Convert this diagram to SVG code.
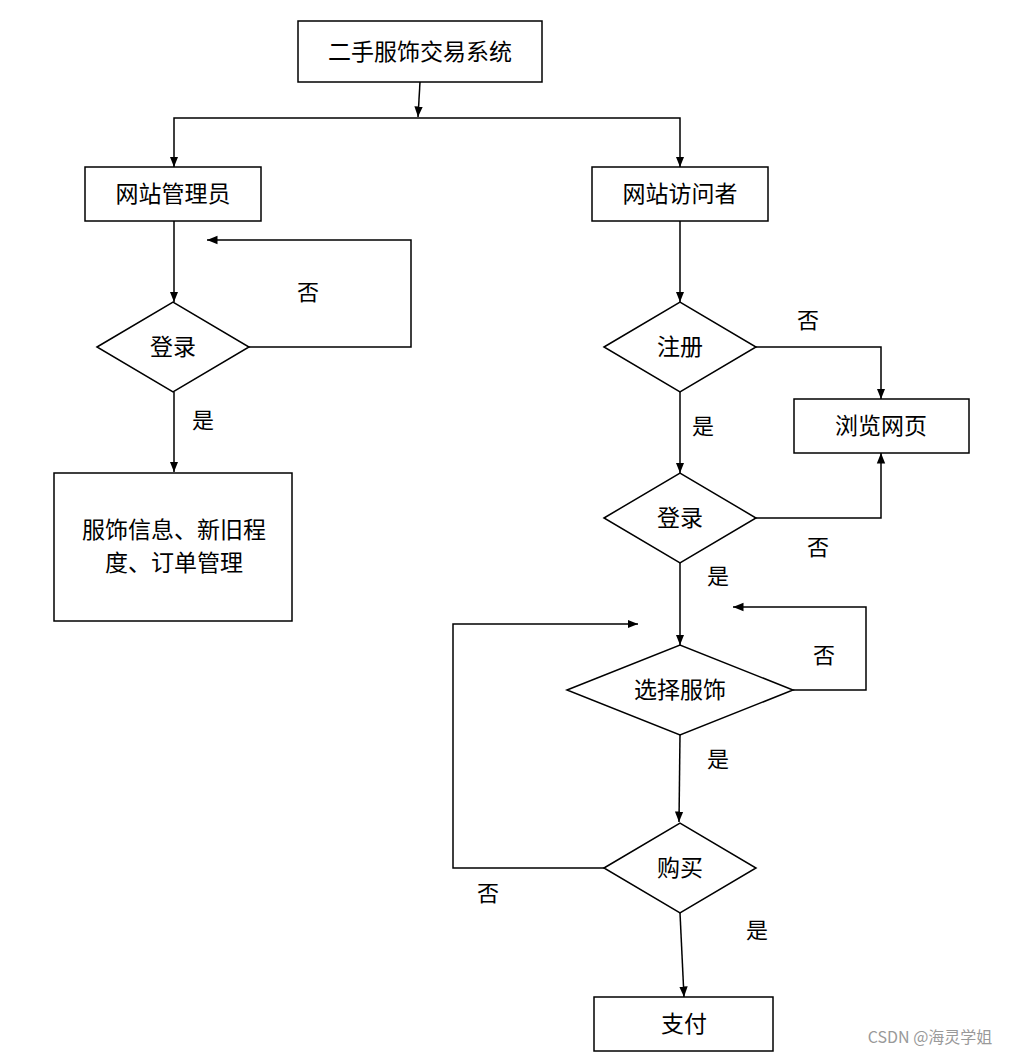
<svg xmlns="http://www.w3.org/2000/svg" width="1013" height="1060" viewBox="0 0 1013 1060">
<style>
.n{fill:#fff;stroke:#000;stroke-width:1.5}
.t{font-family:"Liberation Serif","Noto Sans CJK SC",serif;font-size:23px;fill:#000;text-anchor:middle;dominant-baseline:central}
.l{font-family:"Liberation Serif","Noto Sans CJK SC",serif;font-size:22px;fill:#000;text-anchor:middle;dominant-baseline:central}
.c{fill:none;stroke:#000;stroke-width:1.5;marker-end:url(#a)}
</style>
<defs><marker id="a" viewBox="0 0 10 10" refX="10" refY="5" markerWidth="7" markerHeight="7" orient="auto"><path d="M0,1L10,5L0,9z" fill="#000"/></marker></defs>
<rect width="1013" height="1060" fill="#fff"/>
<g id="connectors">
<path class="c" d="M420,82L418,117"/>
<path class="c" d="M418,118H174V167"/>
<path class="c" d="M418,118H680V167"/>
<path class="c" d="M174,221V302"/>
<path class="c" d="M249,347H411V240H207"/>
<path class="c" d="M174,392V472"/>
<path class="c" d="M680,221V302"/>
<path class="c" d="M756,347H881V399"/>
<path class="c" d="M680,392V473"/>
<path class="c" d="M756,518H881V453"/>
<path class="c" d="M680,563V645"/>
<path class="c" d="M793,690H866V607H733"/>
<path class="c" d="M680,735L679,822"/>
<path class="c" d="M604,868H453V624H638"/>
<path class="c" d="M680,913L684,997"/>
</g>
<g id="n1"><rect class="n" x="298" y="21" width="244" height="61"/><text class="t" x="420" y="52">二手服饰交易系统</text></g>
<g id="n2"><rect class="n" x="85" y="167" width="176" height="54"/><text class="t" x="173" y="194">网站管理员</text></g>
<g id="n3"><rect class="n" x="592" y="167" width="176" height="54"/><text class="t" x="680" y="194">网站访问者</text></g>
<g id="n4"><path class="n" d="M97,347L173,302L249,347L173,392z"/><text class="t" x="173" y="347">登录</text></g>
<g id="n5"><rect class="n" x="54" y="473" width="238" height="148"/><text class="t" x="174" y="530">服饰信息、新旧程</text><text class="t" x="174" y="563">度、订单管理</text></g>
<g id="n6"><path class="n" d="M604,347L680,302L756,347L680,392z"/><text class="t" x="680" y="347">注册</text></g>
<g id="n7"><rect class="n" x="794" y="399" width="175" height="54"/><text class="t" x="881" y="426">浏览网页</text></g>
<g id="n8"><path class="n" d="M604,518L680,473L756,518L680,563z"/><text class="t" x="680" y="518">登录</text></g>
<g id="n9"><path class="n" d="M567,690L680,645L793,690L680,735z"/><text class="t" x="680" y="690">选择服饰</text></g>
<g id="n10"><path class="n" d="M604,868L680,823L756,868L680,913z"/><text class="t" x="680" y="868">购买</text></g>
<g id="n11"><rect class="n" x="594" y="997" width="179" height="54"/><text class="t" x="684" y="1024">支付</text></g>
<g id="labels">
<text class="l" x="308" y="292">否</text>
<text class="l" x="203" y="420">是</text>
<text class="l" x="808" y="320">否</text>
<text class="l" x="703" y="426">是</text>
<text class="l" x="818" y="547">否</text>
<text class="l" x="718" y="576">是</text>
<text class="l" x="824" y="655">否</text>
<text class="l" x="718" y="759">是</text>
<text class="l" x="488" y="893">否</text>
<text class="l" x="757" y="930">是</text>
<text x="930" y="1043" font-family="'Noto Sans CJK SC',sans-serif" font-size="16" fill="#999" text-anchor="middle">CSDN @海灵学姐</text>
</g>
</svg>
